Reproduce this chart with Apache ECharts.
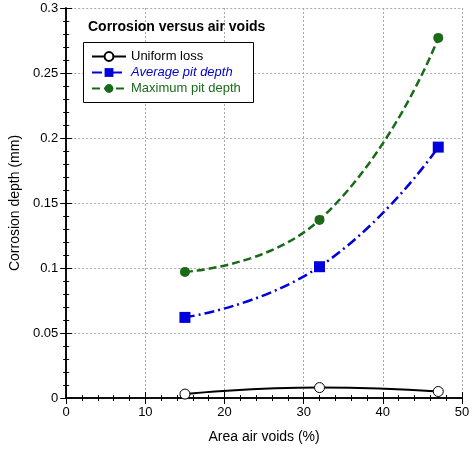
<!DOCTYPE html><html><head><meta charset="utf-8"><script src="https://cdn.jsdelivr.net/npm/echarts@6/dist/echarts.min.js"></script></head><body style="margin:0"><div id="c" style="width:474px;height:455px"></div><script>
const xUniform=[15,32,47], yUniform=[0.003,0.008,0.005];
const xAvg=[15,32,47], yAvg=[0.062,0.101,0.193];
const xMax=[15,32,47], yMax=[0.097,0.137,0.277];
const pairs=(x,y)=>x.map((v,i)=>[v,y[i]]);
const ch=echarts.init(document.getElementById('c'));
const ax={axisLine:{show:true,lineStyle:{color:'#000',width:1.5}},axisTick:{inside:true,length:6,lineStyle:{color:'#000'}},minorTick:{show:true,splitNumber:5,length:3,lineStyle:{color:'#000'}},splitLine:{show:true,lineStyle:{color:'#aaa',type:[2,2]}},axisLabel:{color:'#000',fontSize:13,fontFamily:'Liberation Sans'},nameTextStyle:{color:'#000',fontSize:14,fontFamily:'Liberation Sans'}};
const twin=(o)=>Object.assign({},ax,o,{axisLabel:{show:false},splitLine:{show:false},name:''});
const xa=Object.assign({type:'value',min:0,max:50,interval:10,name:'Area air voids (%)',nameLocation:'middle',nameGap:32},ax);
const ya=Object.assign({type:'value',min:0,max:0.3,interval:0.05,name:'Corrosion depth (mm)',nameLocation:'middle',nameGap:34,axisLabel:Object.assign({},ax.axisLabel,{formatter:v=>+v.toFixed(2)+''})},ax);
ch.setOption({animation:false,
grid:{left:47,right:12,top:8,bottom:57},
title:{text:'Corrosion versus air voids',left:83,top:15,textStyle:{fontSize:14,fontWeight:'bold',fontFamily:'Liberation Sans',color:'#000'}},
graphic:[{type:'rect',left:83,top:42,shape:{width:170,height:60},style:{fill:'#fff',stroke:'#000',lineWidth:1},z:10}],
legend:{orient:'vertical',left:86,top:45,itemGap:3,itemWidth:34,itemHeight:11,z:20,textStyle:{fontSize:13,fontFamily:'Liberation Sans'},
data:[{name:'Uniform loss',textStyle:{color:'#000'}},{name:'Average pit depth',textStyle:{color:'#0000cc',fontStyle:'italic'}},{name:'Maximum pit depth',textStyle:{color:'#1a6a1a'}}]},
xAxis:[xa,twin({type:'value',min:0,max:50,interval:10,position:'top'})],
yAxis:[ya,twin({type:'value',min:0,max:0.3,interval:0.05,position:'right'})],
series:[
{name:'Uniform loss',type:'line',smooth:0.5,data:pairs(xUniform,yUniform),symbol:'circle',symbolSize:10,itemStyle:{color:'#fff',borderColor:'#000',borderWidth:1},lineStyle:{color:'#000',width:2}},
{name:'Average pit depth',type:'line',smooth:0.5,data:pairs(xAvg,yAvg),symbol:'rect',symbolSize:11,itemStyle:{color:'#0000dd'},lineStyle:{color:'#0000dd',width:2.5,type:[10,4,2,4]}},
{name:'Maximum pit depth',type:'line',smooth:0.5,data:pairs(xMax,yMax),symbol:'circle',symbolSize:10,itemStyle:{color:'#1a6a1a'},lineStyle:{color:'#1a6a1a',width:2.5,type:[8,4]}}
]});
</script></body></html>
